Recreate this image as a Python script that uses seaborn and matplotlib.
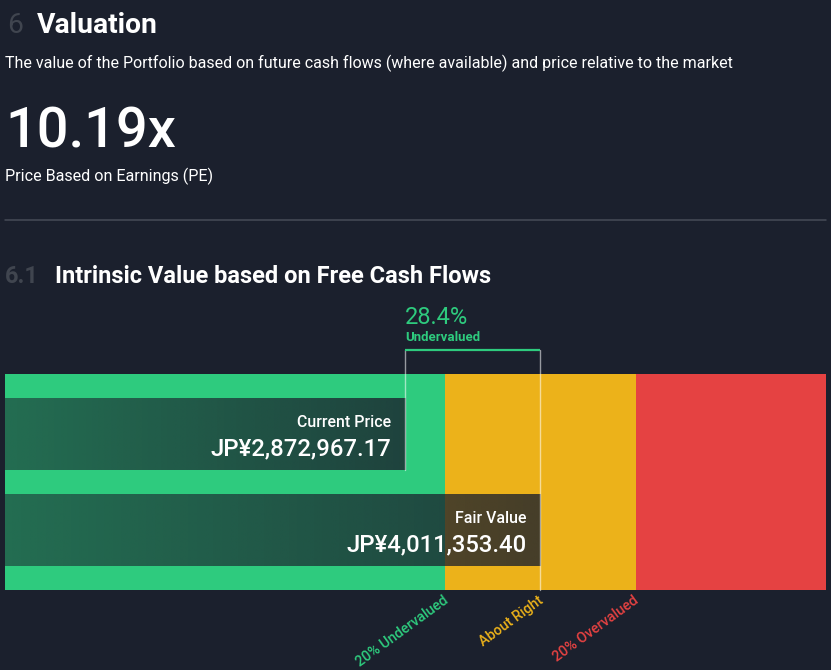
import numpy as np
import pandas as pd
import matplotlib
matplotlib.use("Agg")
import matplotlib.pyplot as plt
import seaborn as sns
from matplotlib import transforms

# ---- data ----
labels = ["Current Price", "Fair Value"]
values = [2872967.17, 4011353.40]
value_texts = ["JP¥2,872,967.17", "JP¥4,011,353.40"]
zone_mult = [0.8, 1.2]           # zone boundaries as multiples of fair value
zone_names = ["20% Undervalued", "About Right", "20% Overvalued"]
pe_ratio = "10.19x"
discount_text = "28.4%"

BG = "#1b202d"
GREEN = "#2ecb7e"
YELLOW = "#ecb21a"
RED = "#e54242"
GRAY = "#40454f"
W, H = 831, 670

sns.set_theme(style="white")
plt.rcParams["font.family"] = ["Roboto", "DejaVu Sans"]

fig = plt.figure(figsize=(W / 100, H / 100), dpi=100, facecolor=BG)

def ftext(x, y, s, **kw):
    return fig.text(x / W, 1 - y / H, s, **kw)

# ---- header texts ----
ftext(7, 33, "6", color=GRAY, fontsize=20.3, va="baseline")
ftext(37, 33, "Valuation", color="white", fontsize=20.3, fontweight="bold", va="baseline")
ftext(5, 68, "The value of the Portfolio based on future cash flows (where available) and price relative to the market",
      color="white", fontsize=11.55, va="baseline")
ftext(5, 148, pe_ratio, color="white", fontsize=40.3, fontweight="medium", va="baseline")
ftext(5, 181, "Price Based on Earnings (PE)", color="white", fontsize=11.6, va="baseline")
fig.add_artist(plt.Line2D([5 / W, 826 / W], [1 - 220 / H, 1 - 220 / H], color="#474c57", lw=1.1))
ftext(5, 283, "6.1", color=GRAY, fontsize=17, fontweight="bold", va="baseline")
ftext(55, 283, "Intrinsic Value based on Free Cash Flows", color="white", fontsize=17,
      fontweight="bold", va="baseline")

# ---- bar chart ----
ax = fig.add_axes([5 / W, 80 / H, 821 / W, 216 / H])
ax.set_facecolor(BG)
fv = values[1]
cp = values[0]
x0, x1 = -0.125 * fv, 1.6 * fv

df = pd.DataFrame({"label": labels, "value": values})
sns.barplot(data=df, y="label", x="value", orient="h", color=BG, width=0.75, ax=ax, zorder=3)

ax.axvspan(x0, zone_mult[0] * fv, color=GREEN, lw=0, zorder=1)
ax.axvspan(zone_mult[0] * fv, zone_mult[1] * fv, color=YELLOW, lw=0, zorder=1)
ax.axvspan(zone_mult[1] * fv, x1, color=RED, lw=0, zorder=1)

bg_rgb = np.array(matplotlib.colors.to_rgb(BG))
grad = np.zeros((1, 256, 4))
grad[..., :3] = bg_rgb
grad[..., 3] = np.linspace(0.55, 0.8, 256)
for p, v in zip(ax.patches, values):
    y = p.get_y()
    h = p.get_height()
    p.set_x(x0)
    p.set_width(v - x0)
    p.set_facecolor("none")
    p.set_edgecolor("none")
    im = ax.imshow(grad, extent=(x0, v, y + h, y), aspect="auto", zorder=2, interpolation="bilinear")
    im.set_clip_path(p)

ax.set_xlim(x0, x1)
ax.set_ylim(1.625, -0.625)
ax.set_xlabel("")
ax.set_ylabel("")
ax.set_xticks([])
ax.set_yticks([])
for s in ax.spines.values():
    s.set_visible(False)

# markers / bracket
top = -0.875
ax.plot([cp, cp], [top, 0.375], color="white", alpha=0.55, lw=1, clip_on=False, zorder=4)
ax.plot([fv, fv], [top, 1.625], color="white", alpha=0.55, lw=1, clip_on=False, zorder=4)
ax.plot([cp, fv], [top, top], color=GREEN, lw=1.6, clip_on=False, zorder=5, solid_capstyle="butt")

ftext(405, 324, discount_text, color=GREEN, fontsize=17, va="baseline")
ftext(405, 341, "Undervalued", color=GREEN, fontsize=9.5, fontweight="bold", va="baseline")

# bar labels
label_y = [427, 523]
val_y = [455, 551]
for v, lab, vt, ly, vy in zip(values, labels, value_texts, label_y, val_y):
    xr = 5 + (v - x0) / (x1 - x0) * 821 - 14
    ftext(xr, ly, lab, color="white", fontsize=11.4, fontweight="medium", ha="right", va="baseline", zorder=6)
    ftext(xr, vy, vt, color="white", fontsize=17.2, fontweight="medium", ha="right", va="baseline", zorder=6)

# zone labels
trans = transforms.blended_transform_factory(ax.transData, fig.transFigure)
shift = 3 / 821 * (x1 - x0)
for xv, name, col in zip([zone_mult[0] * fv, fv, zone_mult[1] * fv], zone_names, [GREEN, YELLOW, RED]):
    t = fig.text(0, 1 - 593 / H, name, transform=trans, color=col, fontsize=10.3, fontweight="medium",
                 rotation=36, rotation_mode="anchor", ha="right", va="top")
    t.set_x(xv - shift)

fig.savefig("out.png", dpi=100, facecolor=BG)
